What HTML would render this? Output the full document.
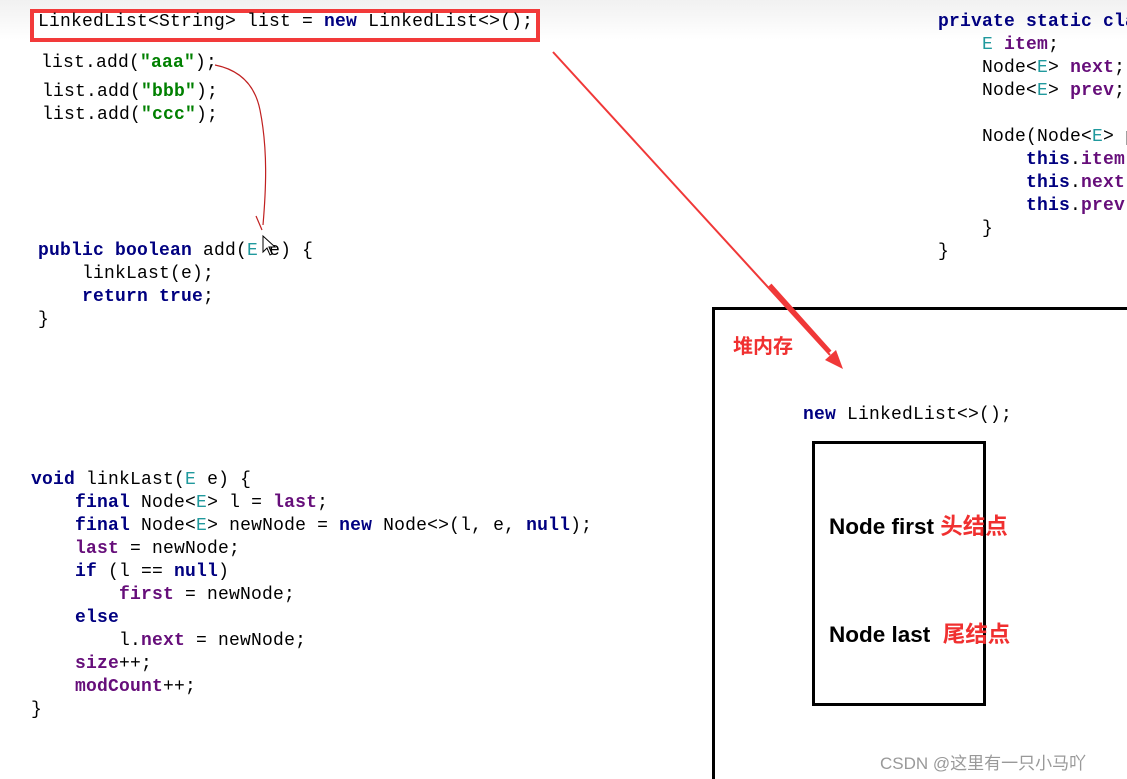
<!DOCTYPE html>
<html><head><meta charset="utf-8"><style>
html,body{margin:0;padding:0;width:1127px;height:779px;overflow:hidden}
body{position:relative;background:#fff;font-family:"Liberation Mono",monospace}
.bg{position:absolute;left:0;top:0;width:1127px;height:40px;background:linear-gradient(#f1f1f1,#fff)}
.c{position:absolute;white-space:pre;font-size:18px;line-height:23px;color:#000;letter-spacing:0.2px}
.k{color:#000080;font-weight:bold}
.p{color:#660e7a;font-weight:bold}
.s{color:#008000;font-weight:bold}
.t{color:#20999d}
.cn{font-family:"Liberation Sans","Noto Sans CJK SC",sans-serif;font-weight:bold;position:absolute;white-space:pre}
.r{color:#f03030}
</style></head><body>
<div class="bg"></div>
<div style="position:absolute;left:30px;top:9px;width:502px;height:25px;border:4px solid #f23a3a;background:#fff"></div>
<div class="c" style="left:38px;top:11px">LinkedList&lt;String&gt; list = <span class="k">new</span> LinkedList&lt;&gt;();</div>
<div class="c" style="left:41px;top:52px">list.add(<span class="s">"aaa"</span>);</div>
<div class="c" style="left:42px;top:81px">list.add(<span class="s">"bbb"</span>);</div>
<div class="c" style="left:42px;top:104px">list.add(<span class="s">"ccc"</span>);</div>

<div class="c" style="left:38px;top:240px"><span class="k">public boolean</span> add(<span class="t">E</span> e) {
    linkLast(e);
    <span class="k">return true</span>;
}</div>

<div class="c" style="left:31px;top:469px"><span class="k">void</span> linkLast(<span class="t">E</span> e) {
    <span class="k">final</span> Node&lt;<span class="t">E</span>&gt; l = <span class="p">last</span>;
    <span class="k">final</span> Node&lt;<span class="t">E</span>&gt; newNode = <span class="k">new</span> Node&lt;&gt;(l, e, <span class="k">null</span>);
    <span class="p">last</span> = newNode;
    <span class="k">if</span> (l == <span class="k">null</span>)
        <span class="p">first</span> = newNode;
    <span class="k">else</span>
        l.<span class="p">next</span> = newNode;
    <span class="p">size</span>++;
    <span class="p">modCount</span>++;
}</div>

<div class="c" style="left:938px;top:11px"><span class="k">private static cla</span>
    <span class="t">E</span> <span class="p">item</span>;
    Node&lt;<span class="t">E</span>&gt; <span class="p">next</span>;
    Node&lt;<span class="t">E</span>&gt; <span class="p">prev</span>;

    Node(Node&lt;<span class="t">E</span>&gt; p
        <span class="k">this</span>.<span class="p">item</span>
        <span class="k">this</span>.<span class="p">next</span>
        <span class="k">this</span>.<span class="p">prev</span>
    }
}</div>

<div style="position:absolute;left:712px;top:307px;width:500px;height:480px;border:3px solid #000"></div>
<div class="cn r" style="left:733px;top:330px;font-size:20px">堆内存</div>
<div class="c" style="left:803px;top:404px"><span class="k">new</span> LinkedList&lt;&gt;();</div>
<div style="position:absolute;left:812px;top:441px;width:168px;height:259px;border:3px solid #000"></div>
<div class="cn" style="left:829px;top:509px;font-size:22.5px">Node first <span class="r">头结点</span></div>
<div class="cn" style="left:829px;top:617px;font-size:22.5px">Node last&nbsp; <span class="r">尾结点</span></div>
<div style="position:absolute;left:880px;top:749px;font-family:'Liberation Sans','Noto Sans CJK SC',sans-serif;font-size:17px;color:#999;white-space:pre">CSDN @这里有一只小马吖</div>

<svg width="1127" height="779" style="position:absolute;left:0;top:0">
<path d="M215 65 C240 70 255 85 260 110 C268 150 266 190 263 225" stroke="#c02020" stroke-width="1.2" fill="none"/>
<path d="M256 216 L262 230" stroke="#c02020" stroke-width="1.2"/>
<path d="M553 52 L830 355" stroke="#f03838" stroke-width="2" fill="none"/>
<path d="M770 285 L830 352" stroke="#f03838" stroke-width="4" fill="none"/>
<polygon points="843,369 825,360 836,350" fill="#f03838"/>
<path d="M263 236 L263 252 L267 248 L270 255 L272 254 L269 247 L275 247 Z" fill="#fff" stroke="#000" stroke-width="1"/>
</svg>
</body></html>
